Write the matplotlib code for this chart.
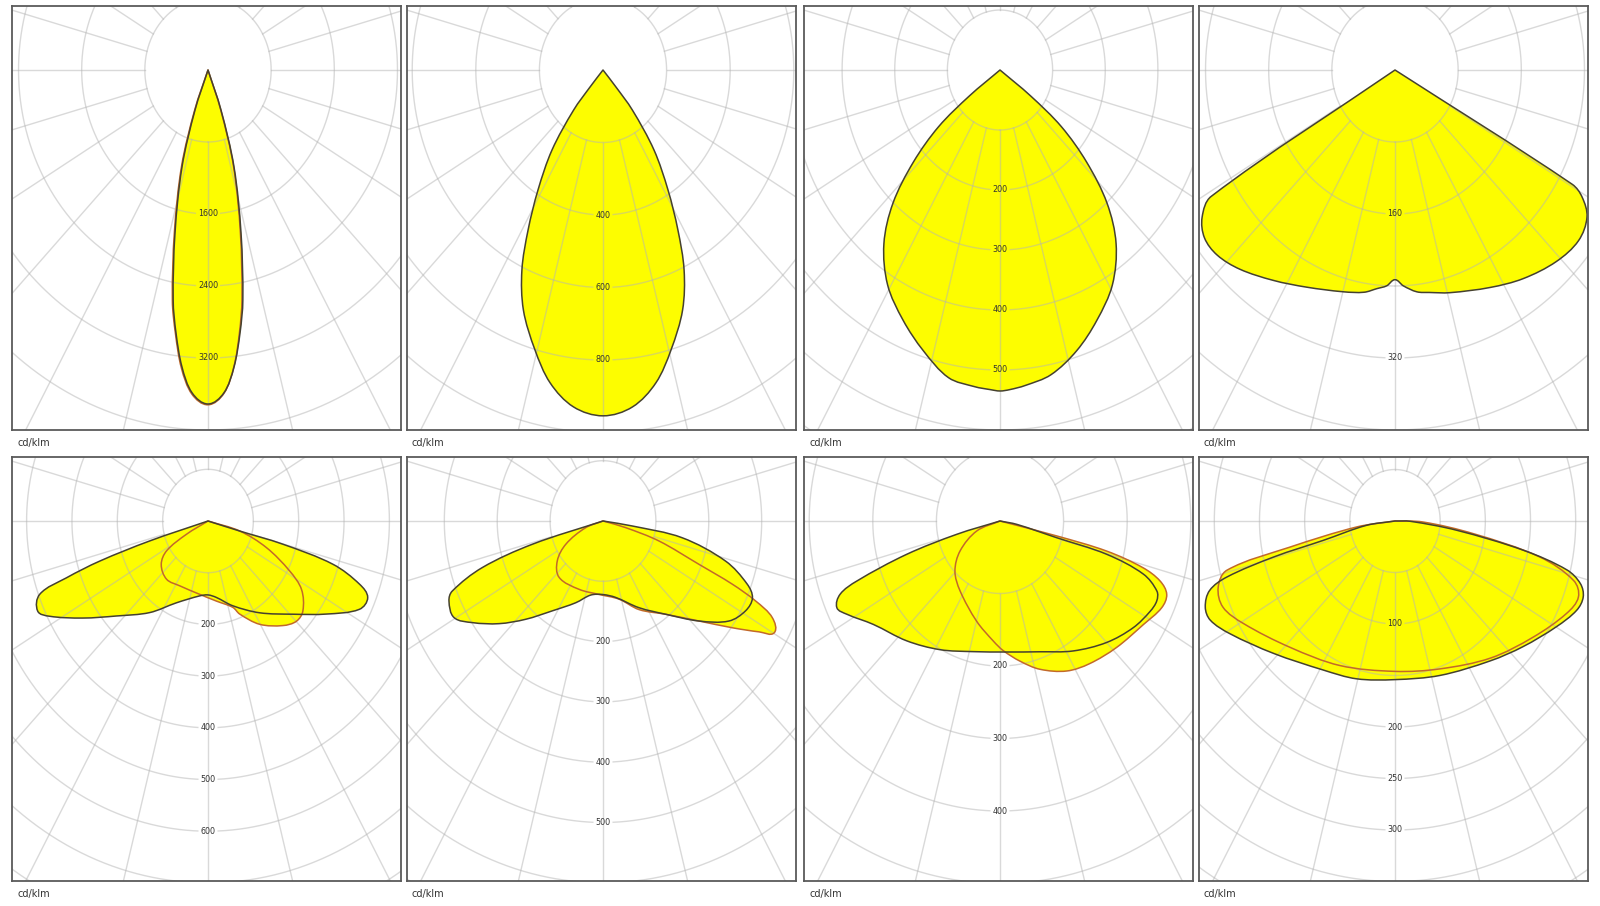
import numpy as np
import matplotlib
matplotlib.use("Agg")
import matplotlib.pyplot as plt
from matplotlib.path import Path
from matplotlib.patches import PathPatch

# ---------------- data (gamma in degrees from nadir, intensity in cd/klm) -------------
# Panel 1
P1_A_G = [-22, -20.3, -17, -13, -9.8, -7.9, -5.7, -3.2, 0, 3.2, 5.7, 7.9, 9.8, 13, 17, 20.3, 22]
P1_A_I = [0, 474, 1127, 1859, 2593, 2950, 3317, 3594, 3711, 3594, 3317, 2950, 2593, 1859, 1127, 474, 0]
P1_B_G = [-22.5, -20.8, -17.4, -13.3, -10.0, -8.0, -5.8, -3.2, 0, 3.2, 5.7, 7.8, 9.6, 12.8, 16.8, 20.0, 21.5]
P1_B_I = [0, 470, 1120, 1850, 2600, 2960, 3330, 3610, 3720, 3600, 3310, 2940, 2580, 1850, 1120, 470, 0]
# Panel 2
P2_G = [-44, -41, -39.9, -36, -31.7, -28.1, -24.8, -20.7, -15.5, -10.9, -5.7, 0,
        5.7, 10.9, 15.5, 20.7, 24.8, 28.1, 31.7, 36, 39.9, 41, 44]
P2_I = [0, 61, 144, 273, 389, 500, 608, 708, 801, 879, 934, 954,
        934, 879, 801, 708, 608, 500, 389, 273, 144, 61, 0]
# Panel 3
P3_G = [-54.5, -53.4, -51, -47, -42.5, -37.3, -30.8, -23.8, -17.3, -10.8, -5.2, -2, 0,
        2, 5.2, 10.8, 17.3, 23.8, 30.8, 37.3, 42.5, 47, 51, 53.4, 54.5]
P3_I = [0, 72, 150, 225, 301, 364, 417, 456, 490, 522, 530, 533, 535,
        533, 528, 517, 490, 456, 417, 364, 301, 225, 150, 72, 0]
# Panel 4
P4_G = [-59, -58.9, -56.2, -52.3, -47.6, -41.6, -33.4, -24.9, -14.9, -9, -5.4, -2.5, 0,
        2.5, 6.4, 10, 15.7, 26.5, 35, 43.8, 50.8, 56.1, 59.2, 60.5, 60.6]
P4_I = [0, 272, 294, 305, 305, 296, 280, 266, 255, 250, 244, 240, 233,
        240, 248, 251, 257, 270, 283, 295, 300, 293, 276, 258, 0]
# Panel 5
P5_A_G = [-74, -73.3, -72, -70.6, -69.1, -65.1, -62.2, -55.8, -47.7, -36, -23.8, -7.2, 0,
          7.1, 18.5, 32.7, 46.1, 55.4, 62.9, 67.2, 69.9, 73.1, 74.8, 74.5, 75]
P5_A_I = [0, 134, 251, 331, 397, 414, 395, 334, 273, 219, 173, 146, 143,
          149, 173, 211, 260, 317, 375, 382, 356, 288, 171, 73, 0]
P5_B_G = [-62, -61.6, -57.7, -50.8, -39.1, -26.4, -7.4, 6.8, 18.2, 21.2, 29.7, 39.2,
          45.2, 50.3, 57.3, 61.8, 68.2, 74.5, 75]
P5_B_I = [0, 54, 108, 133, 145, 140, 143, 156, 176, 193, 230, 261,
          275, 272, 245, 204, 139, 73, 0]
# Panel 6
P6_A_G = [-75, -73.9, -71.3, -67.8, -65.5, -60.4, -55.7, -49.1, -41.9, -32.7, -20.8, -10.7, 0,
          10.7, 25.3, 37.5, 47.6, 55.1, 61.1, 65.7, 69, 74, 79.5, 81.5, 82]
P6_A_I = [0, 139, 241, 308, 320, 324, 299, 260, 219, 177, 145, 125, 122,
          129, 159, 195, 246, 290, 308, 310, 292, 241, 152, 56, 0]
P6_B_G = [-72, -71.2, -61.3, -52.5, -41.5, -21.8, -3.6, 13.1, 24.9, 37.5, 47.6, 54.1,
          58.1, 60.2, 63.4, 65.3, 66.8, 68.4, 72.6, 75.6, 76]
P6_B_I = [0, 35, 80, 109, 125, 122, 122, 133, 162, 195, 246, 302,
          348, 373, 358, 318, 266, 195, 111, 44, 0]
# Panel 7
P7_A_G = [-76, -74.9, -72.6, -69.8, -68.1, -65, -61.9, -54.4, -41.6, -28, -13.1, 3.3,
          19.2, 32.7, 45, 54.9, 62.2, 65.9, 68.6, 72, 74.7, 75.5, 80, 80]
P7_A_I = [0, 70, 154, 240, 271, 283, 273, 245, 221, 201, 185, 181,
          191, 213, 237, 256, 267, 270, 265, 237, 174, 92, 27, 0]
P7_B_G = [-70, -69.4, -56.7, -45.7, -33.1, -14.9, -3.6, 1.7, 9.3, 17.1, 26.9, 35.6,
          46.4, 57.7, 64.8, 68.9, 71.8, 74, 76.1, 77, 78]
P7_B_I = [0, 39, 75, 99, 115, 143, 166, 179, 196, 214, 232, 242,
          253, 267, 281, 281, 265, 234, 173, 91, 0]
# Panel 8
P8_A_G = [-84, -82.4, -76.7, -75.4, -73.7, -71.8, -68.3, -64.8, -59.1, -46.3, -28.7, -15.5, 0,
          18.4, 37.9, 49.3, 60.1, 66.7, 70.5, 73.5, 76, 78.7, 82.5, 89, 90]
P8_A_I = [0, 32, 81, 139, 194, 216, 226, 226, 213, 186, 165, 159, 154,
          158, 172, 187, 206, 219, 221, 214, 196, 145, 69, 17, 0]
P8_B_G = [-84, -82.2, -77.7, -75.6, -71.8, -66.3, -59.3, -43.5, -23.5, 0, 19.2, 38.5,
          53.6, 64.7, 70, 73.7, 77.7, 81.9, 88.2, 90]
P8_B_I = [0, 43, 119, 192, 206, 208, 195, 169, 153, 146, 152, 170,
          190, 210, 216, 206, 164, 88, 31, 0]

# ring step (cd/klm) of each panel and the labelled rings
RING_STEPS = [800, 200, 100, 80, 100, 100, 100, 50]
RING_LABELS = [[1600, 2400, 3200], [400, 600, 800], [200, 300, 400, 500], [160, 320],
               [200, 300, 400, 500, 600], [200, 300, 400, 500], [200, 300, 400],
               [100, 200, 250, 300]]
# pixel spacing of one ring (vertical) in each panel
RING_PX = [72, 72.5, 60, 72, 51.7, 60.3, 72.5, 51.5]

CURVES = [
    [(P1_B_G, P1_B_I, 'B'), (P1_A_G, P1_A_I, 'A')],
    [(P2_G, P2_I, 'A')],
    [(P3_G, P3_I, 'A')],
    [(P4_G, P4_I, 'A')],
    [(P5_B_G, P5_B_I, 'B'), (P5_A_G, P5_A_I, 'A')],
    [(P6_B_G, P6_B_I, 'B'), (P6_A_G, P6_A_I, 'A')],
    [(P7_B_G, P7_B_I, 'B'), (P7_A_G, P7_A_I, 'A')],
    [(P8_B_G, P8_B_I, 'B'), (P8_A_G, P8_A_I, 'A')],
]

# ---------------- styling / layout -------------
W, H = 1600, 906
YELLOW = '#fdfd00'
LINE_COL = {'A': '#45412f', 'B': '#c2692a'}
GRID_COL = '#b4b4b4'
COL_LEFT = [12, 407, 804, 1199]
ROW_TOP = [6, 457]
BOX_W, BOX_H = 389, 424
CX, CY = 196, 64
STRETCH = 1.14
LABEL_FS = 5.8


def _unit(v):
    n = np.hypot(v[0], v[1])
    return v / n if n > 1e-9 else v * 0


def smooth_path(g, I, kx, ky):
    """Closed smooth outline through the polar points (drawn as cubic Bezier segments);
    the two ends at the origin are kept as sharp corners."""
    th = np.radians(np.asarray(g, float))
    I = np.asarray(I, float)
    # work in screen-proportional space so tangents are not distorted
    P = np.column_stack([I * np.sin(th) * kx, -I * np.cos(th) * ky])
    n = len(P)
    T = np.zeros_like(P)
    for i in range(n):
        if i == 0:
            T[i] = _unit(P[1] - P[0])
        elif i == n - 1:
            T[i] = _unit(P[-1] - P[-2])
        else:
            T[i] = _unit(P[i + 1] - P[i - 1])
    verts = [P[0]]
    codes = [Path.MOVETO]
    for i in range(n - 1):
        d = np.hypot(*(P[i + 1] - P[i]))
        verts += [P[i] + T[i] * d / 3, P[i + 1] - T[i + 1] * d / 3, P[i + 1]]
        codes += [Path.CURVE4] * 3
    verts.append(P[0])
    codes.append(Path.CLOSEPOLY)
    V = np.array(verts)
    V[:, 0] /= kx
    V[:, 1] /= ky
    return Path(V, codes)


fig = plt.figure(figsize=(W / 100, H / 100), dpi=100)
fig.patch.set_facecolor('white')

for idx in range(8):
    r, c = divmod(idx, 4)
    left, top = COL_LEFT[c], ROW_TOP[r]
    ax = fig.add_axes([left / W, 1 - (top + BOX_H) / H, BOX_W / W, BOX_H / H])
    step = RING_STEPS[idx]
    ky = RING_PX[idx] / step
    kx = ky / STRETCH
    x0, x1 = -CX / kx, (BOX_W - CX) / kx
    y0, y1 = -(BOX_H - CY) / ky, CY / ky
    ax.set_xlim(x0, x1)
    ax.set_ylim(y0, y1)
    ax.set_xticks([])
    ax.set_yticks([])
    for s in ax.spines.values():
        s.set_color('#5a5a5a')
        s.set_linewidth(1.3)
        s.set_zorder(6)

    # fills
    for g, I, key in CURVES[idx]:
        ax.add_patch(PathPatch(smooth_path(g, I, kx, ky), facecolor=YELLOW,
                               edgecolor='none', zorder=1))

    # grid
    rmax = max(np.hypot(x, y) for x in (x0, x1) for y in (y0, y1))
    nr = int(np.ceil(rmax / step)) + 1
    for k in range(1, nr + 1):
        R = k * step
        gap = 0.0
        if R in RING_LABELS[idx]:
            nd = len(str(R))
            half_px = nd * 0.636 * LABEL_FS * 100 / 72 / 2 + 2.5
            gap = (half_px / kx) / R
        t = np.linspace(gap, 2 * np.pi - gap, 720)
        ax.plot(R * np.sin(t), -R * np.cos(t), color=GRID_COL, lw=1.0, alpha=0.5, zorder=2)
    for a in range(0, 360, 15):
        ar = np.radians(a)
        ax.plot([step * np.sin(ar), rmax * 1.2 * np.sin(ar)],
                [-step * np.cos(ar), -rmax * 1.2 * np.cos(ar)],
                color=GRID_COL, lw=1.0, alpha=0.5, zorder=2)

    # outlines
    for g, I, key in CURVES[idx]:
        ax.add_patch(PathPatch(smooth_path(g, I, kx, ky), facecolor='none',
                               edgecolor=LINE_COL[key], lw=1.1, zorder=3, joinstyle='round'))

    # ring labels
    for v in RING_LABELS[idx]:
        ax.text(0, -v, str(v), ha='center', va='center', fontsize=LABEL_FS,
                color='#333333', zorder=4)

    fig.text((left + 5) / W, 1 - (top + BOX_H + 13) / H, 'cd/klm', fontsize=7,
             ha='left', va='center', color='#333333')

fig.savefig('out.png', dpi=100, facecolor='white')
